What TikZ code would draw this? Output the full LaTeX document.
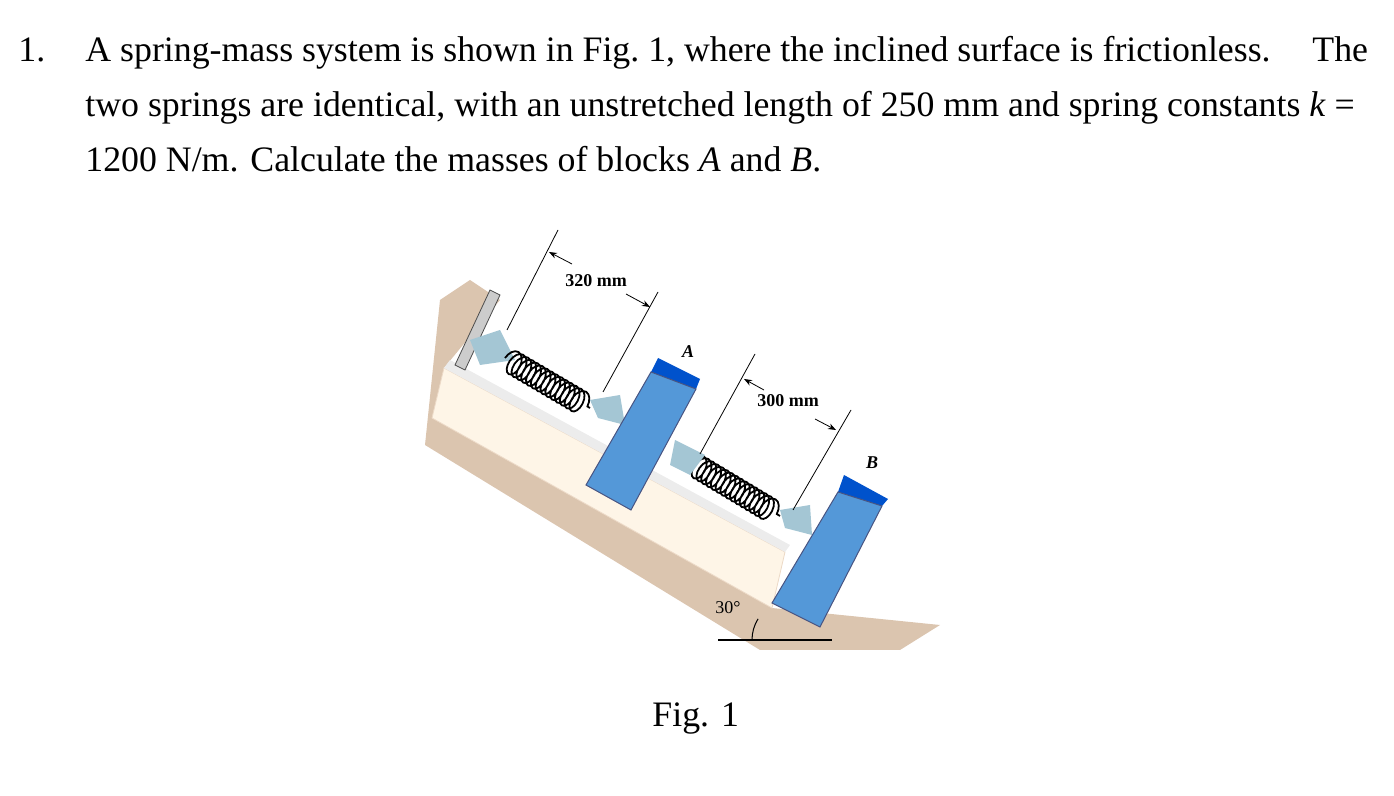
\documentclass[tikz,border=0pt]{standalone}
\usepackage{fontspec}
\setmainfont{Liberation Serif}
\usetikzlibrary{decorations.pathmorphing,arrows.meta}
\begin{document}
\begin{tikzpicture}[x=0.5pt,y=-0.5pt,
  txt/.style={anchor=base west,inner sep=0,font=\fontsize{17.9}{20}\selectfont},
  dim/.style={line width=0.4pt},
  lbl/.style={inner sep=0,font=\bfseries\fontsize{9}{10}\selectfont},
  blockface/.style={fill=cyan!60!blue!70, draw=cyan!30!blue!60!black, line width=0.5pt},
  blocktop/.style={fill=blue!60!cyan!80!black},
  springc/.style={decorate,decoration={coil,aspect=0.6,segment length=2.8pt,amplitude=6pt},line width=0.9pt}]
\useasboundingbox (0,0) rectangle (1394,796);
% text
\node[txt] (n1) at (18,62) {1.};
\node[txt] (t1) at (85,62) {A spring-mass system is shown in Fig.~1, where the inclined surface is frictionless.};
\node[txt] (t1b) at (1312,62) {The};
\node[txt] (t2) at (85,117) {two springs are identical, with an unstretched length of 250 mm and spring constants \textit{k} =};
\node[txt] (t3) at (85,172) {1200 N/m. Calculate the masses of blocks \textit{A} and \textit{B}.};
% ground shading
\fill[brown!60!orange!70!black, opacity=0.35] (440,300) -- (470,280) -- (500,300) -- (444,368) -- (432,418) -- (772,608) -- (940,625) -- (900,650) -- (760,650) -- (425,445) -- cycle;
% slab
\fill[yellow!10!orange!8!white, draw=brown!30] (444,368) -- (785,552) -- (772,608) -- (432,418) -- cycle;
\fill[gray!15] (444,368) -- (785,552) -- (790,545) -- (450,360) -- cycle;
% wall plate
\fill[gray!40, draw=gray!60!black] (455,365) -- (490,290) -- (500,295) -- (465,370) -- cycle;
\fill[cyan!40!gray!60] (470,340) -- (500,330) -- (515,360) -- (480,365) -- cycle;
% springs
\coordinate (s1a) at (505,358);
\coordinate (s1b) at (590,408);
\draw[springc] (s1a) -- (s1b);
\fill[cyan!40!gray!60] (590,400) -- (620,395) -- (625,425) -- (598,418) -- cycle;
\coordinate (s2a) at (690,462);
\coordinate (s2b) at (780,516);
\draw[springc] (s2a) -- (s2b);
\fill[cyan!40!gray!60] (675,440) -- (705,455) -- (690,475) -- (670,465) -- cycle;
\fill[cyan!40!gray!60] (780,510) -- (810,505) -- (812,535) -- (785,528) -- cycle;
% block A
\fill[blocktop] (651,372) -- (658,358) -- (700,379) -- (696,389) -- cycle;
\filldraw[blockface] (651,372) -- (696,389) -- (631,510) -- (586,485) -- cycle;
\node[lbl] (A) at (688,352) {\itshape A};
% block B
\fill[blocktop] (838,492) -- (844,475) -- (888,499) -- (882,506) -- cycle;
\filldraw[blockface] (838,492) -- (882,506) -- (820,627) -- (772,603) -- cycle;
\node[lbl] (B) at (872,463) {\itshape B};
% dimensions
\draw[dim] (507,330) -- (558,230);
\draw[dim] (603,392) -- (658,292);
\draw[dim,{Stealth[length=4pt]}-] (549,252) -- (572,264);
\draw[dim,-{Stealth[length=4pt]}] (626,294) -- (650,307);
\node[lbl] (d1) at (596,281) {320 mm};
\draw[dim] (700,454) -- (755,354);
\draw[dim] (793,510) -- (851,410);
\draw[dim,{Stealth[length=4pt]}-] (744,379) -- (764,390);
\draw[dim,-{Stealth[length=4pt]}] (815,419) -- (836,430);
\node[lbl] (d2) at (788,401) {300 mm};
% angle
\draw[line width=0.6pt] (718,640) -- (832,640);
\draw[line width=0.5pt] (752,640) arc[start angle=180,end angle=212,radius=40];
\node[inner sep=0,font=\fontsize{9}{10}\selectfont] (ang) at (728,608) {30\textdegree};
% caption
\node[txt] (fig) at (652,727) {Fig. 1};
\end{tikzpicture}
\end{document}
